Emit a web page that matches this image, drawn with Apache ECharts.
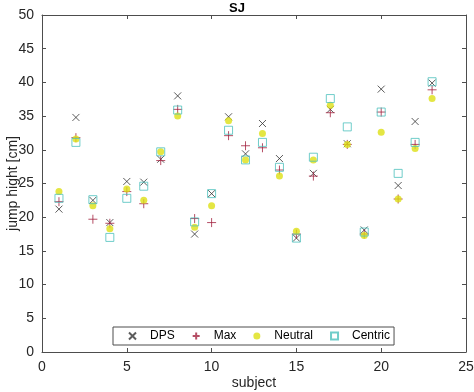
<!DOCTYPE html>
<html>
<head>
<meta charset="utf-8">
<script src="https://cdn.jsdelivr.net/npm/echarts@6/dist/echarts.min.js"></script>
<style>
  html, body { margin: 0; padding: 0; background: #fff; }
  #chart { width: 474px; height: 392px; }
</style>
</head>
<body>
<div id="chart"></div>
<script>
// subject numbers
const subjects = [1, 2, 3, 4, 5, 6, 7, 8, 9, 10, 11, 12, 13, 14, 15, 16, 17, 18, 19, 20, 21, 22, 23]
// jump height [cm] per subject
const dps = [21.2, 34.8, 22.5, 19.2, 25.3, 25.2, 28.6, 38.0, 17.5, 23.5, 34.9, 29.4, 33.9, 28.7, 16.9, 26.5, 36.0, 30.9, 18.1, 39.0, 24.7, 34.2, 39.9]
const max = [22.3, 31.8, 19.7, 19.1, 23.8, 22.0, 28.4, 36.0, 19.8, 19.2, 32.1, 30.6, 30.3, 27.0, 17.5, 26.1, 35.5, 30.8, 17.5, 35.6, 22.7, 30.8, 38.9]
const neutral = [23.8, 31.6, 21.7, 18.3, 24.2, 22.5, 29.7, 35.0, 18.5, 21.7, 34.3, 28.5, 32.4, 26.1, 17.9, 28.5, 36.6, 30.8, 17.3, 32.6, 22.7, 30.2, 37.6]
const centric = [22.8, 31.1, 22.6, 17.0, 22.8, 24.6, 29.7, 35.9, 19.3, 23.5, 32.9, 28.5, 31.1, 27.4, 16.9, 28.9, 37.6, 33.4, 17.8, 35.6, 26.5, 31.1, 40.1]
const xTicks = [0, 5, 10, 15, 20, 25]
const yTicks = [0, 5, 10, 15, 20, 25, 30, 35, 40, 45, 50]

const pairs = vals => subjects.map((s, i) => [s, vals[i]])

const crossPath = 'path://M0,0L10,10M10,0L0,10'
const plusPath = 'path://M5,0L5,10M0,5L10,5'

const chart = echarts.init(document.getElementById('chart'))

const fontFamily = 'Liberation Sans, Arial, sans-serif'
const labelFont = { fontFamily, fontSize: 14, color: '#262626' }
const frameLine = { show: true, onZero: false, lineStyle: { color: '#4d4d4d', width: 1 } }
const tick = { inside: true, length: 4, lineStyle: { color: '#4d4d4d' } }

chart.setOption({
  animation: false,
  title: {
    text: 'SJ',
    left: 'center',
    top: -3,
    textStyle: { fontFamily, fontSize: 13, fontWeight: 'bold', color: '#000' }
  },
  legend: {
    left: 113,
    top: 327,
    orient: 'horizontal',
    itemWidth: 7,
    itemHeight: 7,
    itemGap: 17,
    padding: [3, 4, 3, 15],
    borderColor: '#4d4d4d',
    borderWidth: 1,
    backgroundColor: '#fff',
    textStyle: { fontFamily, fontSize: 12, color: '#000', padding: [0, 0, 0, 9] },
    data: ['DPS', 'Max', 'Neutral', 'Centric']
  },
  grid: { left: 42, right: 8, top: 15, bottom: 40, containLabel: false, outerBoundsMode: 'none' },
  xAxis: [{
    type: 'value',
    min: 0,
    max: 25,
    interval: 5,
    name: 'subject',
    nameLocation: 'middle',
    nameGap: 24,
    nameMoveOverlap: false,
    nameTextStyle: { fontFamily, fontSize: 14, color: '#262626' },
    axisLine: frameLine,
    axisTick: tick,
    axisLabel: Object.assign({ margin: 8 }, labelFont),
    splitLine: { show: false }
  }, {
    type: 'value',
    position: 'top',
    min: 0,
    max: 25,
    interval: 5,
    axisLine: frameLine,
    axisTick: tick,
    axisLabel: { show: false },
    splitLine: { show: false }
  }],
  yAxis: [{
    type: 'value',
    min: 0,
    max: 50,
    interval: 5,
    name: 'jump hight [cm]',
    nameLocation: 'middle',
    nameGap: 22,
    nameMoveOverlap: false,
    nameTextStyle: { fontFamily, fontSize: 14, color: '#262626' },
    axisLine: frameLine,
    axisTick: tick,
    axisLabel: Object.assign({ margin: 8 }, labelFont),
    splitLine: { show: false }
  }, {
    type: 'value',
    position: 'right',
    min: 0,
    max: 50,
    interval: 5,
    axisLine: frameLine,
    axisTick: tick,
    axisLabel: { show: false },
    splitLine: { show: false }
  }],
  series: [{
    name: 'DPS',
    type: 'scatter',
    symbol: crossPath,
    symbolSize: 7,
    itemStyle: { color: 'transparent', borderColor: '#333', borderWidth: 1 },
    data: pairs(dps)
  }, {
    name: 'Max',
    type: 'scatter',
    symbol: plusPath,
    symbolSize: 9,
    itemStyle: { color: 'transparent', borderColor: '#a3223f', borderWidth: 1 },
    data: pairs(max)
  }, {
    name: 'Neutral',
    type: 'scatter',
    symbol: 'circle',
    symbolSize: 7,
    itemStyle: { color: '#dde014' },
    data: pairs(neutral)
  }, {
    name: 'Centric',
    type: 'scatter',
    symbol: 'rect',
    symbolSize: 8,
    itemStyle: { color: 'transparent', borderColor: '#4cc0bd', borderWidth: 1 },
    data: pairs(centric)
  }]
})
</script>
</body>
</html>
